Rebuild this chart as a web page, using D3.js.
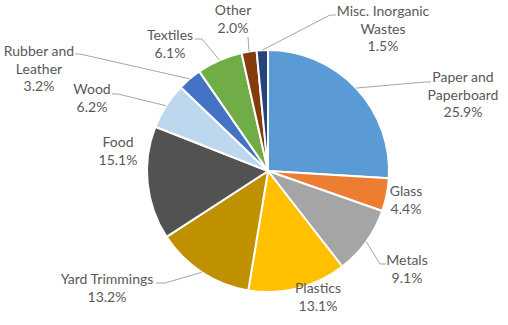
<!DOCTYPE html>
<html><head><meta charset="utf-8">
<script src="https://cdn.jsdelivr.net/npm/d3@7"></script>
<style>
html,body{margin:0;padding:0;background:#fff;}
svg{display:block;}
text{font-family:Lato,"Open Sans",sans-serif;font-size:14px;fill:#595959;}
</style></head>
<body>
<svg id="chart" width="508" height="325"></svg>
<script>
// ---- data ----
const categories = ["Paper and Paperboard","Glass","Metals","Plastics","Yard Trimmings","Food","Wood","Rubber and Leather","Textiles","Other","Misc. Inorganic Wastes"];
const values = [25.9, 4.4, 9.1, 13.1, 13.2, 15.1, 6.2, 3.2, 6.1, 2.0, 1.5];

// ---- style / layout ----
const colors = ["#5B9BD5","#ED7D31","#A5A5A5","#FFC000","#BF9000","#525252","#BDD7EE","#4472C4","#70AD47","#843C0C","#264478"];
// words on first line of label (rest wrapped), label centre, leader elbow + end
const labelLayout = [
  {wrap:[2], x:463, y:77, leader:[[425,82],[431,82]]},
  {wrap:[], x:406, y:191},
  {wrap:[], x:407, y:260, leader:[[380,264],[386,264]]},
  {wrap:[], x:318, y:288},
  {wrap:[], x:107, y:279, leader:[[165,283],[156,283]]},
  {wrap:[], x:118, y:142},
  {wrap:[], x:92, y:89, leader:[[118,94],[112,94]]},
  {wrap:[2], x:39, y:51, leader:[[80,54],[75,54]]},
  {wrap:[], x:170, y:35, leader:[[202,39],[195,39]]},
  {wrap:[], x:233, y:10, leader:[[248,37],[248,37]]},
  {wrap:[2,1], x:383, y:11, leader:[[330,15],[336,15]]}
];
const cx = 268, cy = 171, R = 121, lineH = 17.7;

const svg = d3.select("#chart");
const g = svg.append("g").attr("transform",`translate(${cx},${cy})`);

const pie = d3.pie().value(d=>d).sort(null);
const arcs = pie(values);
const arc = d3.arc().innerRadius(0).outerRadius(R);

g.selectAll("path.slice").data(arcs).enter().append("path")
  .attr("class","slice")
  .attr("d",arc)
  .attr("fill",(d,i)=>colors[i])
  .attr("stroke","#fff").attr("stroke-width",2).attr("stroke-linejoin","round");

// leader lines
arcs.forEach((d,i)=>{
  const L = labelLayout[i];
  if(!L.leader) return;
  const a = (d.startAngle+d.endAngle)/2;
  const px = cx + R*Math.sin(a), py = cy - R*Math.cos(a);
  const pts = [[px,py], L.leader[0], L.leader[1]];
  svg.append("path")
    .attr("d", d3.line()(pts))
    .attr("fill","none").attr("stroke","#A6A6A6").attr("stroke-width",1);
});

// labels
arcs.forEach((d,i)=>{
  const L = labelLayout[i];
  const words = categories[i].split(" ");
  const lines = [];
  let idx = 0;
  L.wrap.forEach(n=>{ lines.push(words.slice(idx, idx+n).join(" ")); idx += n; });
  if(idx < words.length) lines.push(words.slice(idx).join(" "));
  lines.push(values[i].toFixed(1)+"%");
  const t = svg.append("text").attr("text-anchor","middle");
  lines.forEach((s,k)=>{
    t.append("tspan").attr("x",L.x).attr("y",L.y + k*lineH + 5).text(s);
  });
});
</script>
</body></html>
